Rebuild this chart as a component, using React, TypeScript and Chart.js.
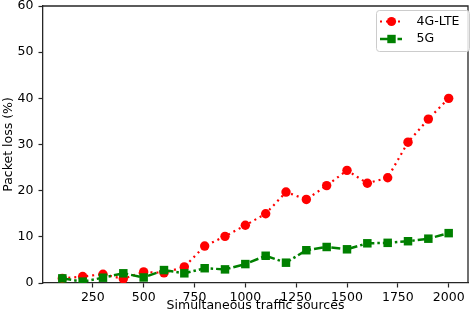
import React, { useEffect, useRef } from "react";
import { Chart, registerables } from "chart.js";

Chart.register(...registerables);

const sources = [100, 200, 300, 400, 500, 600, 700, 800, 900, 1000, 1100, 1200, 1300, 1400, 1500, 1600, 1700, 1800, 1900, 2000];
const lteLoss = [1.0, 1.4, 1.9, 0.9, 2.4, 2.2, 3.5, 8.0, 10.1, 12.5, 15.0, 19.7, 18.1, 21.1, 24.4, 21.6, 22.8, 30.5, 35.5, 40.0];
const fiveGLoss = [1.0, 0.3, 1.15, 2.1, 1.2, 2.8, 2.1, 3.2, 2.95, 4.1, 5.9, 4.4, 7.1, 7.8, 7.3, 8.6, 8.7, 9.05, 9.6, 10.8];
const xTicks = [250, 500, 750, 1000, 1250, 1500, 1750, 2000];
const xTickLabels = ["250", "500", "750", "1000", "1250", "1500", "1750", "2000"];
const yTicks = [0, 10, 20, 30, 40, 50, 60];
const seriesNames = ["4G-LTE", "5G"];
const xTitle = "Simultaneous traffic sources";
const yTitle = "Packet loss (%)";

const RED = "#ff0000";
const GREEN = "#008000";
const AXIS = "#262626";
const FONT = "'DejaVu Sans', sans-serif";
const FS = 12.5;

const frameAndLegend = {
  id: "frameAndLegend",
  afterDraw(chart: any) {
    const { ctx, chartArea } = chart;
    ctx.save();
    ctx.strokeStyle = AXIS;
    ctx.lineWidth = 1.3;
    ctx.beginPath();
    ctx.moveTo(chartArea.left, chartArea.top);
    ctx.lineTo(chartArea.right, chartArea.top);
    ctx.lineTo(chartArea.right, chartArea.bottom);
    ctx.stroke();

    const bx = 376.5, by = 10.5, bw = 93, bh = 41, r = 3;
    ctx.globalAlpha = 0.85;
    ctx.fillStyle = "#ffffff";
    ctx.beginPath();
    ctx.moveTo(bx + r, by);
    ctx.lineTo(bx + bw - r, by);
    ctx.quadraticCurveTo(bx + bw, by, bx + bw, by + r);
    ctx.lineTo(bx + bw, by + bh - r);
    ctx.quadraticCurveTo(bx + bw, by + bh, bx + bw - r, by + bh);
    ctx.lineTo(bx + r, by + bh);
    ctx.quadraticCurveTo(bx, by + bh, bx, by + bh - r);
    ctx.lineTo(bx, by + r);
    ctx.quadraticCurveTo(bx, by, bx + r, by);
    ctx.closePath();
    ctx.fill();
    ctx.globalAlpha = 1;
    ctx.strokeStyle = "#cccccc";
    ctx.lineWidth = 1;
    ctx.stroke();

    const entries = [
      { y: 21.5, color: RED, dash: [2, 4], lw: 2.2, marker: "circle" },
      { y: 39, color: GREEN, dash: [9, 3, 2.5, 3], lw: 2.5, marker: "rect" },
    ];
    entries.forEach((e, i) => {
      ctx.strokeStyle = e.color;
      ctx.lineWidth = e.lw;
      ctx.setLineDash(e.dash);
      ctx.beginPath();
      ctx.moveTo(380, e.y);
      ctx.lineTo(402, e.y);
      ctx.stroke();
      ctx.setLineDash([]);
      ctx.fillStyle = e.color;
      if (e.marker === "circle") {
        ctx.beginPath();
        ctx.arc(391.5, e.y, 4.6, 0, Math.PI * 2);
        ctx.fill();
      } else {
        ctx.fillRect(391.5 - 4.2, e.y - 4.2, 8.4, 8.4);
      }
      ctx.fillStyle = "#000";
      ctx.font = `${FS}px ${FONT}`;
      ctx.textAlign = "left";
      ctx.textBaseline = "middle";
      ctx.fillText(seriesNames[i], 416.5, e.y);
    });
    ctx.restore();
  },
};

export default function App() {
  const canvasRef = useRef<HTMLCanvasElement | null>(null);

  useEffect(() => {
    document.body.style.margin = "0";
    const canvas = canvasRef.current;
    if (!canvas) return;
    const chart = new Chart(canvas, {
      type: "scatter",
      data: {
        datasets: [
          {
            label: seriesNames[0],
            data: sources.map((x, i) => ({ x, y: lteLoss[i] })),
            showLine: true,
            borderColor: RED,
            backgroundColor: RED,
            borderWidth: 2.2,
            borderDash: [2, 4],
            pointStyle: "circle",
            pointRadius: 4.7,
            pointBorderWidth: 0,
            pointBackgroundColor: RED,
            tension: 0,
            fill: false,
            order: 1,
          },
          {
            label: seriesNames[1],
            data: sources.map((x, i) => ({ x, y: fiveGLoss[i] })),
            showLine: true,
            borderColor: GREEN,
            backgroundColor: GREEN,
            borderWidth: 2.5,
            borderDash: [9, 3, 2.5, 3],
            pointStyle: "rect",
            pointRadius: 6,
            pointBorderWidth: 0,
            pointBackgroundColor: GREEN,
            tension: 0,
            fill: false,
            order: 0,
          },
        ],
      },
      options: {
        animation: false,
        responsive: false,
        maintainAspectRatio: false,
        layout: { padding: { top: 4.5, right: 2, left: 0, bottom: 0 } },
        plugins: {
          legend: { display: false },
          tooltip: { enabled: false },
        },
        scales: {
          x: {
            type: "linear",
            position: "bottom",
            min: 5,
            max: 2095,
            afterBuildTicks: (scale: any) => {
              scale.ticks = xTicks.map((v) => ({ value: v }));
            },
            afterFit: (scale: any) => {
              scale.height = 37;
              scale.paddingLeft = 0;
              scale.paddingRight = 0;
            },
            grid: {
              display: true,
              drawOnChartArea: false,
              drawTicks: true,
              tickLength: 4.5,
              tickWidth: 1.2,
              tickColor: AXIS,
            },
            border: { display: true, color: AXIS, width: 1.3 },
            ticks: {
              autoSkip: false,
              maxRotation: 0,
              padding: 3,
              color: "#000",
              callback: (value: any, index: number) => xTickLabels[index] ?? String(value),
              font: { family: FONT, size: FS, lineHeight: 1.2 },
            },
            title: {
              display: true,
              text: xTitle,
              color: "#000",
              font: { family: FONT, size: FS, lineHeight: 1.2 },
              padding: { top: 0, bottom: 6.5 },
            },
          },
          y: {
            type: "linear",
            position: "left",
            min: 0,
            max: 60,
            afterBuildTicks: (scale: any) => {
              scale.ticks = yTicks.map((v) => ({ value: v }));
            },
            afterFit: (scale: any) => {
              scale.width = 43;
              scale.paddingTop = 0;
              scale.paddingBottom = 0;
            },
            grid: {
              display: true,
              drawOnChartArea: false,
              drawTicks: true,
              tickLength: 4.5,
              tickWidth: 1.2,
              tickColor: AXIS,
            },
            border: { display: true, color: AXIS, width: 1.3 },
            ticks: {
              autoSkip: false,
              padding: 5,
              color: "#000",
              font: { family: FONT, size: FS, lineHeight: 1.2 },
            },
            title: {
              display: true,
              text: yTitle,
              color: "#000",
              font: { family: FONT, size: FS, lineHeight: 1.2 },
              padding: { top: 1.5, bottom: 0 },
            },
          },
        },
      },
      plugins: [frameAndLegend],
    });
    return () => chart.destroy();
  }, []);

  return (
    <div style={{ width: 474, height: 320, background: "#fff" }}>
      <canvas ref={canvasRef} width={474} height={320} style={{ display: "block" }} />
    </div>
  );
}
